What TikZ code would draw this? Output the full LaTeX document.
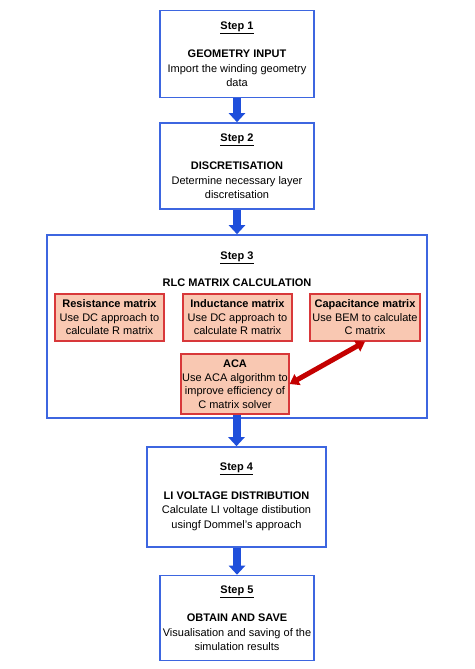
\documentclass[tikz,border=0pt]{standalone}
\usepackage{fontspec}
\setmainfont{Liberation Sans}
\usetikzlibrary{arrows.meta}
\definecolor{stepblue}{HTML}{3D66E0}
\definecolor{arrowblue}{HTML}{1F4FDB}
\definecolor{boxred}{HTML}{D8383A}
\definecolor{fillred}{HTML}{F9C8B2}
\definecolor{arrowred}{HTML}{C40000}
\tikzset{
  stepbox/.style={draw=stepblue, line width=1.6pt, fill=white, align=center,
    inner sep=0pt, font=\fontsize{11}{14.5}\selectfont},
  subbox/.style={draw=boxred, line width=1.3pt, fill=fillred, align=center,
    inner sep=0pt, font=\fontsize{11}{13.5}\selectfont},
  titletext/.style={font=\fontsize{11}{14}\selectfont, align=center, inner sep=0pt},
  flowarrow/.style={draw=arrowblue, line width=8pt,
    -{Triangle[width=16pt,length=9pt]}},
  linkarrow/.style={draw=arrowred, line width=5pt,
    {Triangle[width=12pt,length=9pt]}-{Triangle[width=12pt,length=9pt]}}
}
\begin{document}
\begin{tikzpicture}[x=1pt,y=-1pt]
\useasboundingbox (0,0) rectangle (474,669);
\fill[white] (0,0) rectangle (474,669);

\node[stepbox, minimum width=154pt, minimum height=87pt] (s1) at (237,54)
  {\textbf{\underline{Step 1}}\\[14pt]\textbf{GEOMETRY INPUT}\\Import the winding geometry\\data};
\node[stepbox, minimum width=154pt, minimum height=86pt] (s2) at (237,166)
  {\textbf{\underline{Step 2}}\\[14pt]\textbf{DISCRETISATION}\\Determine necessary layer\\discretisation};
\node[draw=stepblue, line width=1.6pt, fill=white, minimum width=380pt, minimum height=183pt, inner sep=0pt] (s3) at (237,326.5) {};
\node[titletext] (s3step) at (237,258) {\textbf{\underline{Step 3}}};
\node[titletext] (s3title) at (237,283) {\textbf{RLC MATRIX CALCULATION}};

\node[subbox, minimum width=109pt, minimum height=47pt] (res) at (109.5,317.5)
  {\textbf{Resistance matrix}\\Use DC approach to\\calculate R matrix};
\node[subbox, minimum width=109pt, minimum height=47pt] (ind) at (237.5,317.5)
  {\textbf{Inductance matrix}\\Use DC approach to\\calculate R matrix};
\node[subbox, minimum width=110pt, minimum height=47pt] (cap) at (365,317.5)
  {\textbf{Capacitance matrix}\\Use BEM to calculate\\C matrix};
\node[subbox, minimum width=108pt, minimum height=60pt] (aca) at (235,384)
  {\textbf{ACA}\\Use ACA algorithm to\\improve efficiency of\\C matrix solver};

\node[stepbox, minimum width=179pt, minimum height=100pt] (s4) at (236.5,497)
  {\textbf{\underline{Step 4}}\\[14pt]\textbf{LI VOLTAGE DISTRIBUTION}\\Calculate LI voltage distibution\\usingf Dommel's approach};
\node[stepbox, minimum width=154pt, minimum height=85pt] (s5) at (237,618)
  {\textbf{\underline{Step 5}}\\[14pt]\textbf{OBTAIN AND SAVE}\\Visualisation and saving of the\\simulation results};

\draw[flowarrow] (s1.south) -- (s2.north);
\draw[flowarrow] (s2.south) -- (s2.south |- s3.north);
\draw[flowarrow] (s4.north |- aca.south) -- (s4.north);
\draw[flowarrow] (s4.south -| s5.north) -- (s5.north);
\draw[linkarrow] (aca.east) -- (cap.south);
\end{tikzpicture}
\end{document}
